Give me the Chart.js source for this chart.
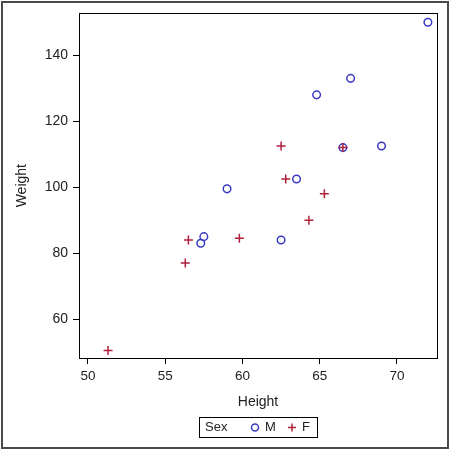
<!DOCTYPE html>
<html>
<head>
<meta charset="utf-8">
<script src="https://cdn.jsdelivr.net/npm/chart.js@4/dist/chart.umd.min.js"></script>
<style>
html,body{margin:0;padding:0;background:#fff;}
canvas{display:block;}
</style>
</head>
<body>
<canvas id="c" width="450" height="450"></canvas>
<script>
// Data (SASHELP.CLASS style)
const mHeight = [69.0, 63.5, 57.3, 62.5, 59.0, 72.0, 64.8, 67.0, 57.5, 66.5];
const mWeight = [112.5, 102.5, 83.0, 84.0, 99.5, 150.0, 128.0, 133.0, 85.0, 112.0];
const fHeight = [56.5, 65.3, 62.8, 59.8, 62.5, 51.3, 64.3, 56.3, 66.5];
const fWeight = [84.0, 98.0, 102.5, 84.5, 112.5, 50.5, 90.0, 77.0, 112.0];
const xTicks = [50, 55, 60, 65, 70];
const yTicks = [60, 80, 100, 120, 140];
const seriesNames = ['M', 'F'];
const legendTitle = 'Sex';
const xTitle = 'Height';
const yTitle = 'Weight';

const BLUE = '#3a3ac4';
const RED = '#b0203c';
const FONT = '"Liberation Sans", Arial, sans-serif';
const TXT = '#222';

const toPts = (xs, ys) => xs.map((x, i) => ({x: x, y: ys[i]}));

const framePlugin = {
  id: 'frame',
  afterDraw(chart) {
    const ctx = chart.ctx;
    const a = chart.chartArea;
    ctx.save();
    // outer border
    ctx.strokeStyle = '#4a4a4a';
    ctx.lineWidth = 2;
    ctx.strokeRect(2, 2, 446, 446);
    // plot frame
    ctx.strokeStyle = '#000';
    ctx.lineWidth = 1;
    ctx.strokeRect(Math.round(a.left) + 0.5, Math.round(a.top) + 0.5, Math.round(a.right - a.left), Math.round(a.bottom - a.top));
    // legend
    const bx = 199.5, by = 417.5, bw = 118, bh = 20;
    ctx.strokeRect(bx, by, bw, bh);
    ctx.fillStyle = TXT;
    ctx.font = '13px ' + FONT;
    ctx.textBaseline = 'middle';
    ctx.textAlign = 'left';
    const cy = by + bh / 2;
    ctx.fillText(legendTitle, 205, cy);
    // M symbol
    ctx.strokeStyle = BLUE;
    ctx.lineWidth = 1.5;
    ctx.beginPath();
    ctx.arc(255, cy, 3.5, 0, Math.PI * 2);
    ctx.stroke();
    ctx.fillStyle = TXT;
    ctx.fillText(seriesNames[0], 265, cy);
    // F symbol
    ctx.strokeStyle = RED;
    ctx.beginPath();
    ctx.moveTo(288, cy); ctx.lineTo(296, cy);
    ctx.moveTo(292, cy - 4); ctx.lineTo(292, cy + 4);
    ctx.stroke();
    ctx.fillText(seriesNames[1], 302, cy);
    ctx.restore();
  }
};

new Chart(document.getElementById('c'), {
  type: 'scatter',
  data: {
    datasets: [
      {
        label: seriesNames[0],
        data: toPts(mHeight, mWeight),
        pointStyle: 'circle',
        pointRadius: 3.8,
        pointBorderWidth: 1.5,
        borderColor: BLUE,
        backgroundColor: 'rgba(0,0,0,0)',
        order: 1
      },
      {
        label: seriesNames[1],
        data: toPts(fHeight, fWeight),
        pointStyle: 'cross',
        pointRadius: 4.5,
        pointBorderWidth: 1.5,
        borderColor: RED,
        backgroundColor: RED,
        order: 0
      }
    ]
  },
  options: {
    responsive: false,
    animation: false,
    devicePixelRatio: 1,
    layout: {padding: {top: 12, right: 13, left: 0, bottom: 0}},
    plugins: {
      legend: {display: false},
      tooltip: {enabled: false}
    },
    scales: {
      x: {
        type: 'linear',
        min: 49.42,
        max: 72.59,
        afterBuildTicks(s) { s.ticks = xTicks.map(v => ({value: v})); },
        afterFit(s) { s.height = 92; },
        grid: {drawOnChartArea: false, drawTicks: true, tickLength: 6, tickColor: '#000', tickWidth: 1},
        border: {display: true, color: '#000'},
        ticks: {color: TXT, font: {family: FONT, size: 13.5}, padding: 4, maxRotation: 0, autoSkip: false},
        title: {display: true, text: xTitle, color: TXT, font: {family: FONT, size: 14}, padding: {top: 0, bottom: 39}}
      },
      y: {
        type: 'linear',
        min: 48.2,
        max: 152.7,
        afterBuildTicks(s) { s.ticks = yTicks.map(v => ({value: v})); },
        afterFit(s) { s.width = 79; },
        grid: {drawOnChartArea: false, drawTicks: true, tickLength: 6, tickColor: '#000', tickWidth: 1},
        border: {display: true, color: '#000'},
        ticks: {color: TXT, font: {family: FONT, size: 14}, padding: 5, autoSkip: false},
        title: {display: true, text: yTitle, color: TXT, font: {family: FONT, size: 14}, padding: {top: 14, bottom: 0}}
      }
    }
  },
  plugins: [framePlugin]
});
</script>
</body>
</html>
